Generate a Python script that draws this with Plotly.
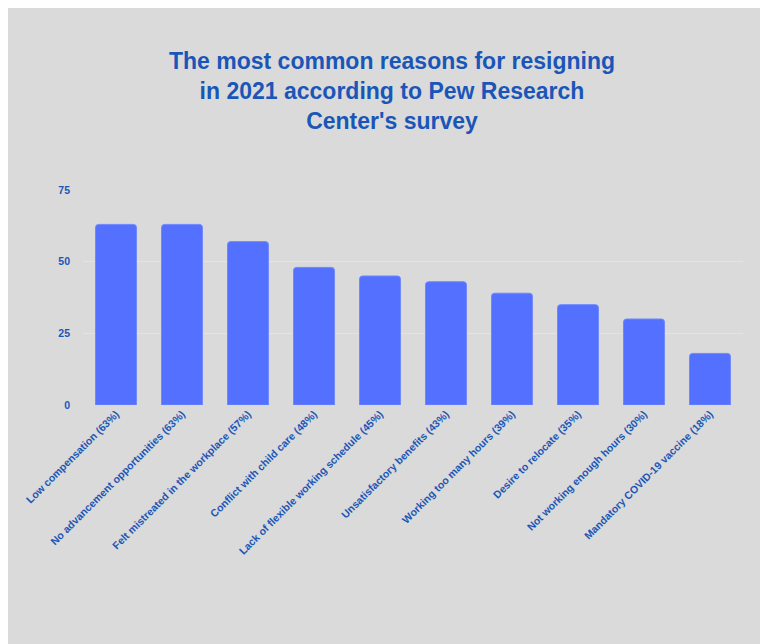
import plotly.graph_objects as go

reasons = [
    "Low compensation (63%)",
    "No advancement opportunities (63%)",
    "Felt mistreated in the workplace (57%)",
    "Conflict with child care (48%)",
    "Lack of flexible working schedule (45%)",
    "Unsatisfactory benefits (43%)",
    "Working too many hours (39%)",
    "Desire to relocate (35%)",
    "Not working enough hours (30%)",
    "Mandatory COVID-19 vaccine (18%)",
]
shares = [63, 63, 57, 48, 45, 43, 39, 35, 30, 18]
y_ticks = [0, 25, 50, 75]

text_blue = "#1a56b8"

fig = go.Figure(go.Bar(
    x=reasons, y=shares,
    marker=dict(color="#5470ff", line=dict(color="#6f88ff", width=1)),
    width=0.62,
))

fig.update_layout(
    width=768, height=644,
    paper_bgcolor="#dadada", plot_bgcolor="#dadada",
    barcornerradius=3,
    font=dict(family="Liberation Sans, Arial", color=text_blue),
    title=dict(
        text="The most common reasons for resigning<br>in 2021 according to Pew Research<br>Center's survey",
        x=0.5, xanchor="center", y=0.905, yanchor="top",
        font=dict(size=23, color=text_blue, weight="bold"),
    ),
    margin=dict(l=75, r=33, t=182, b=247),
    showlegend=False,
)
fig.update_xaxes(tickangle=-45, tickfont=dict(size=10.5, weight="bold"), showgrid=False, ticks="")
fig.update_yaxes(range=[0, 75], tickvals=y_ticks, gridcolor="#e3e3e3", zeroline=False,
                 tickfont=dict(size=10.5, weight="bold"), ticklabelstandoff=12)

fig.write_html("out.html")
